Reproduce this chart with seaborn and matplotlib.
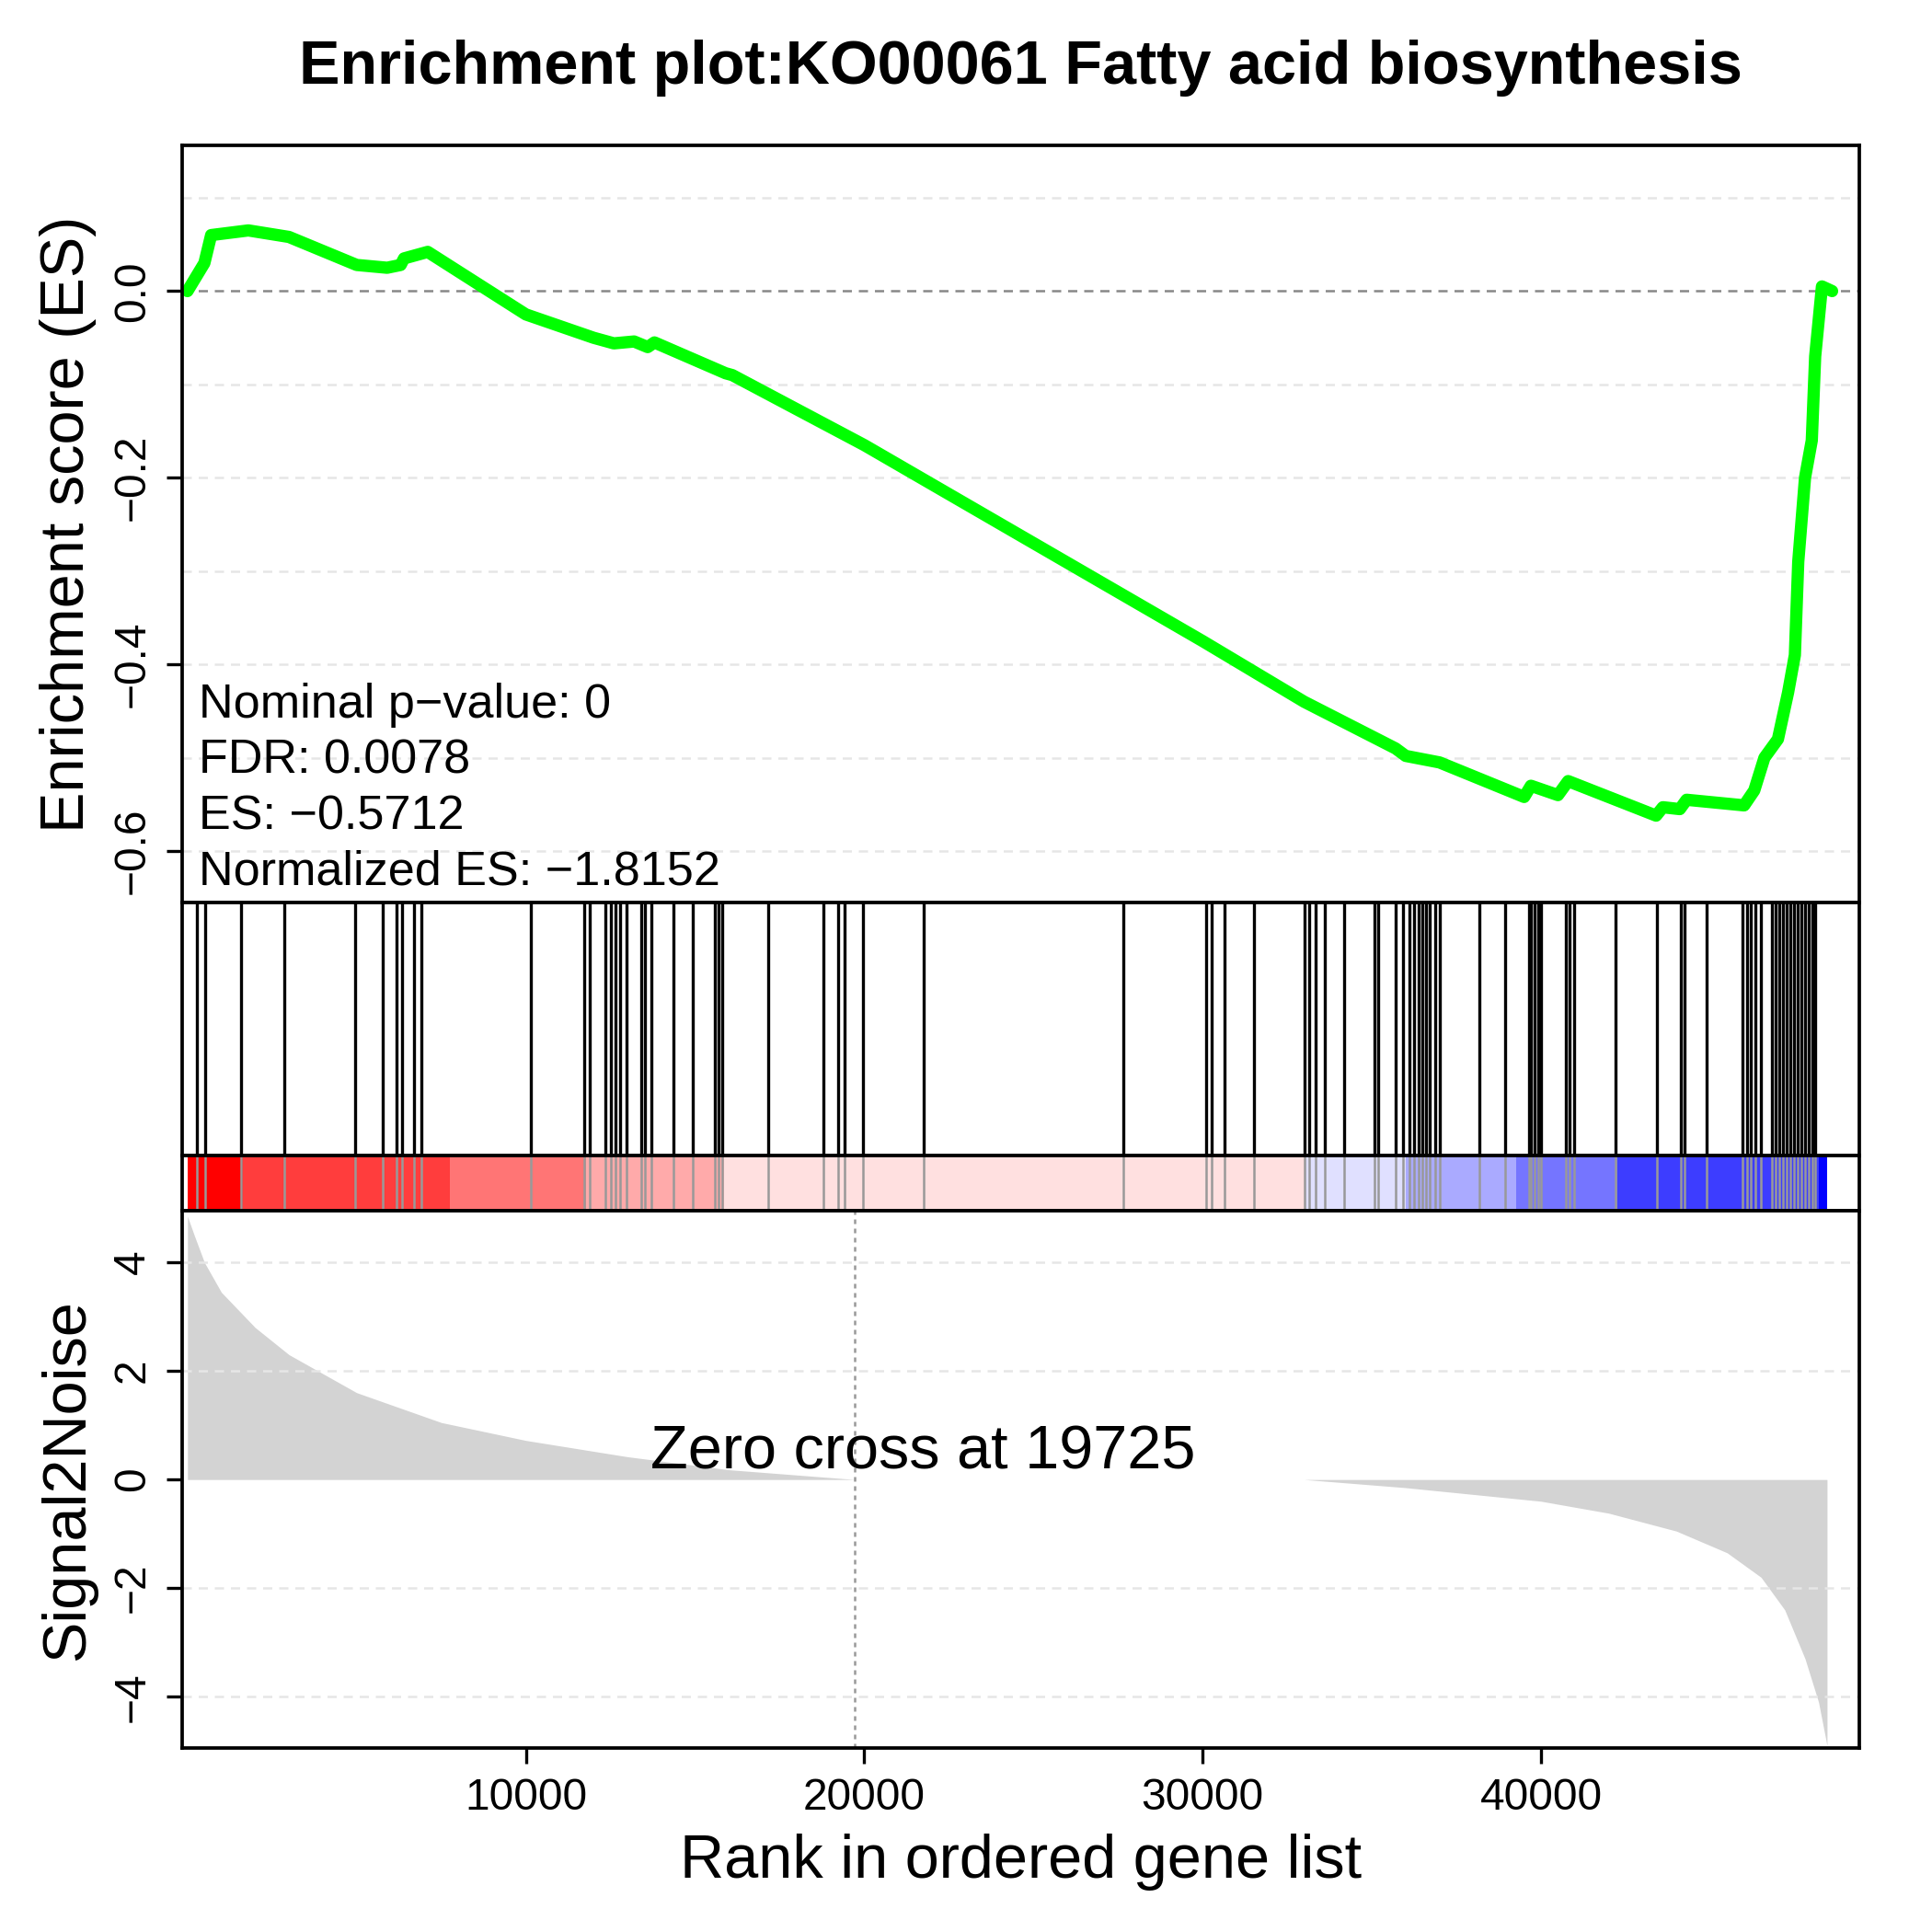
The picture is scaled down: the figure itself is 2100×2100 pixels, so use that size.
import matplotlib
matplotlib.use("Agg")
import matplotlib.pyplot as plt
import seaborn as sns

sns.set_style("white")
plt.rcParams['font.family'] = ['Liberation Sans', 'DejaVu Sans']
plt.rcParams['text.color'] = 'black'
plt.rcParams['axes.labelcolor'] = 'black'
plt.rcParams['xtick.color'] = 'black'
plt.rcParams['ytick.color'] = 'black'

es_rank = [0, 500, 700, 1800, 3000, 5000, 5900, 6300, 6400, 7100, 10000, 12000, 12600, 13200, 13600, 13800,
           15900, 16100, 20000, 25000, 30000, 33000, 35700, 36000, 37000, 39500, 39700, 40500, 40800, 43400,
           43600, 44100, 44300, 46000, 46300, 46600, 47000, 47300, 47500, 47600, 47800, 48000, 48100, 48300, 48600]
es_val = [0, 0.03, 0.06, 0.065, 0.058, 0.028, 0.025, 0.028, 0.035, 0.042, -0.025, -0.05, -0.056, -0.054, -0.06, -0.055,
          -0.088, -0.09, -0.165, -0.27, -0.375, -0.44, -0.49, -0.498, -0.505, -0.542, -0.53, -0.54, -0.525, -0.562,
          -0.553, -0.555, -0.545, -0.551, -0.535, -0.5, -0.48, -0.43, -0.39, -0.29, -0.2, -0.16, -0.07, 0.005, 0]

hits = [290, 510, 1570, 2850, 4960, 5760, 6190, 6340, 6700, 6920, 10160, 11730, 11880, 12350, 12500, 12640,
        12790, 12970, 13410, 13520, 13700, 14360, 14940, 15590, 15700, 15810, 17160, 18800, 19230, 19420,
        19960, 21750, 27650, 30090, 30270, 30640, 31510, 33010, 33150, 33330, 33620, 34170, 35080, 35190,
        35700, 35920, 36100, 36250, 36390, 36500, 36610, 36720, 36870, 37010, 38180, 38940, 39640, 39710,
        39820, 39930, 40000, 40730, 40840, 40980, 42190, 43430, 44120, 44230, 44890, 45940, 46090, 46200,
        46340, 46490, 46810, 46920, 47030, 47140, 47250, 47360, 47470, 47580, 47690, 47800, 47910, 48020, 48090]

metric_rank = [0, 200, 500, 1000, 2000, 3000, 5000, 7500, 10000, 13000, 16000, 19725, 33000, 36000, 40000,
               42000, 44000, 45500, 46500, 47200, 47800, 48200, 48450]
metric_val = [4.85, 4.5, 4.0, 3.45, 2.8, 2.3, 1.6, 1.05, 0.72, 0.42, 0.18, 0, 0, -0.15, -0.4,
              -0.62, -0.95, -1.35, -1.8, -2.4, -3.3, -4.1, -4.9]

band_edges = [0, 1640, 7760, 11770, 15850, 33000, 36000, 39270, 42260, 48200, 48450]
band_colors = ['#FF0000', '#FF3D3D', '#FF7575', '#FFAAAA', '#FFE0E0', '#E0E0FF', '#AAAAFF', '#7575FF', '#3D3DFF', '#0000FF']

title = "Enrichment plot:KO00061 Fatty acid biosynthesis"
stats_text = ["Nominal p\u2212value: 0", "FDR: 0.0078", "ES: \u22120.5712", "Normalized ES: \u22121.8152"]
zero_cross = 19725

XL = (-150, 49400)
fig = plt.figure(figsize=(7, 7), dpi=300)
L, W = 0.0944, 0.8679
ax1 = fig.add_axes([L, 0.5329, W, 0.3918])
ax2 = fig.add_axes([L, 0.4020, W, 0.1309])
ax3 = fig.add_axes([L, 0.3733, W, 0.0287])
ax4 = fig.add_axes([L, 0.0951, W, 0.2782])

for y in [0.1, -0.1, -0.2, -0.3, -0.4, -0.5, -0.6]:
    ax1.axhline(y, color='#E6E6E6', lw=0.6, ls=(0, (4, 3)))
ax1.axhline(0, color='#888888', lw=0.6, ls=(0, (4, 3)))
sns.lineplot(x=es_rank, y=es_val, ax=ax1, color='#00FF00', lw=3.2)
ax1.set_xlim(*XL); ax1.set_ylim(-0.655, 0.156)
ax1.set_xticks([])
ax1.set_yticks([0.0, -0.2, -0.4, -0.6])
ax1.set_yticklabels(["0.0", "\u22120.2", "\u22120.4", "\u22120.6"], rotation=90, va='center', fontsize=11.5)
ax1.set_ylabel("Enrichment score (ES)", fontsize=16)
ax1.set_title(title, fontsize=16, fontweight='bold', pad=16)
ax1.text(0.01, 0.29, "\n".join(stats_text), transform=ax1.transAxes, fontsize=12.5, va='top', linespacing=1.3)

ax2.vlines(hits, 0, 1, color='black', lw=0.8)
ax2.set_xlim(*XL); ax2.set_ylim(0, 1)
ax2.set_xticks([]); ax2.set_yticks([])

for i, c in enumerate(band_colors):
    ax3.axvspan(band_edges[i], band_edges[i + 1], color=c, lw=0)
ax3.vlines(hits, 0, 1, color='#999999', lw=0.6)
ax3.set_xlim(*XL); ax3.set_ylim(0, 1)
ax3.set_xticks([]); ax3.set_yticks([])

for y in [4, 2, -2, -4]:
    ax4.axhline(y, color='#E6E6E6', lw=0.6, ls=(0, (4, 3)))
ax4.fill_between(metric_rank, 0, metric_val, color='#D3D3D3', lw=0)
ax4.axvline(zero_cross, color='#999999', lw=0.6, ls=(0, (2, 2)))
ax4.text(zero_cross + 2000, 0.2, f"Zero cross at {zero_cross}", fontsize=16, ha='center')
ax4.set_xlim(*XL); ax4.set_ylim(-4.95, 4.95)
ax4.set_yticks([4, 2, 0, -2, -4])
ax4.set_yticklabels(["4", "2", "0", "\u22122", "\u22124"], rotation=90, va='center', fontsize=11.5)
ax4.set_xticks([10000, 20000, 30000, 40000])
ax4.tick_params(axis='x', labelsize=11.5)
ax4.set_ylabel("Signal2Noise", fontsize=16)
ax4.set_xlabel("Rank in ordered gene list", fontsize=16)

for ax in [ax1, ax2, ax3, ax4]:
    for s in ax.spines.values():
        s.set_color('black'); s.set_linewidth(0.9)
for ax in [ax1, ax4]:
    ax.tick_params(axis='both', which='both', left=True, bottom=(ax is ax4), length=4, width=0.8, color='black')

fig.savefig("out.png", dpi=300)
